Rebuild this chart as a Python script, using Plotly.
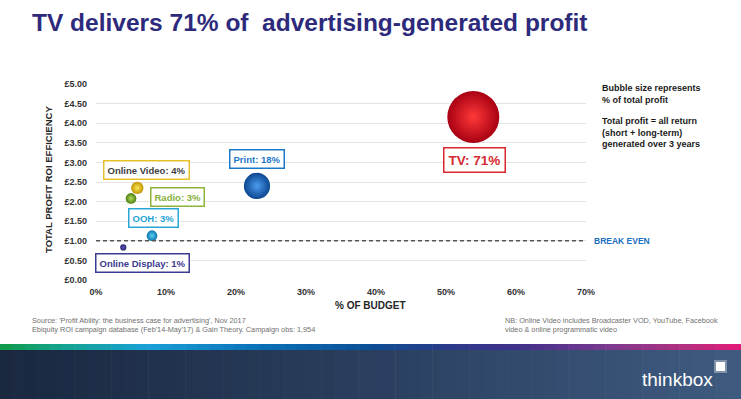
import plotly.graph_objects as go

# ---------------- data ----------------
channels = ["Online Display", "Radio", "Online Video", "OOH", "Print", "TV"]
budget_share = [0.039, 0.050, 0.059, 0.080, 0.230, 0.539]   # % of budget
roi = [0.83, 2.08, 2.35, 1.13, 2.40, 4.16]                  # total profit ROI (GBP)
profit_share = [1, 3, 4, 3, 18, 71]                          # % of total profit (bubble size)
break_even = 1.0
y_ticks = [0, 0.5, 1, 1.5, 2, 2.5, 3, 3.5, 4, 4.5, 5]
y_tick_labels = ["£0.00", "£0.50", "£1.00", "£1.50", "£2.00", "£2.50",
                 "£3.00", "£3.50", "£4.00", "£4.50", "£5.00"]
x_ticks = [0, 0.1, 0.2, 0.3, 0.4, 0.5, 0.6, 0.7]
x_tick_labels = ["0%", "10%", "20%", "30%", "40%", "50%", "60%", "70%"]

# ---------------- styling ----------------
W, H = 741, 399
L, R, T, B = 96, 155, 84, 119
FONT = "Arial, Liberation Sans, sans-serif"

centre_colors = ["#5a5ab8", "#b4dc5a", "#ffe85a", "#5ad0f8", "#4a9cee", "#ff3a3a"]
edge_colors = ["#24246e", "#4a7e12", "#c09400", "#0b76a8", "#0c4690", "#a80012"]
label_text_colors = ["#3c3a8f", "#86b03a", "#404040", "#27a3d6", "#1e78c8", "#d42a30"]
label_border_colors = ["#3c3a8f", "#8db33a", "#e6c12a", "#2aa6d6", "#1e78c8", "#d9262e"]
# label centres in pixels
label_px = [(142, 263), (177, 197), (146, 170), (153, 218), (257, 159), (474, 160)]


def px_x(px):
    return (px - L) / (W - L - R)


def px_y(py):
    return (H - B - py) / (H - T - B)


fig = go.Figure()

sizeref = 2.0 * max(profit_share) / 52.0 ** 2
fig.add_trace(go.Scatter(
    x=budget_share, y=roi, mode="markers",
    marker=dict(
        size=profit_share, sizemode="area", sizeref=sizeref, sizemin=2,
        color=edge_colors,
        gradient=dict(type="radial", color=centre_colors),
        line=dict(width=0),
        opacity=1,
    ),
    hoverinfo="skip", showlegend=False,
))

annotations = []
shapes = []

# bubble labels
for i, ch in enumerate(channels):
    px, py = label_px[i]
    big = ch == "TV"
    annotations.append(dict(
        x=px_x(px), y=px_y(py), xref="paper", yref="paper",
        text=f"<b>{ch}: {profit_share[i]}%</b>", showarrow=False,
        font=dict(family=FONT, size=13.5 if big else 9.5, color=label_text_colors[i]),
        bordercolor=label_border_colors[i], borderwidth=1.5,
        borderpad=4 if big else 3, bgcolor="white",
        xanchor="center", yanchor="middle",
    ))

# break-even line
shapes.append(dict(type="line", xref="paper", yref="y", x0=0, x1=1,
                   y0=break_even, y1=break_even,
                   line=dict(color="#555555", width=1.5, dash="4px,3px")))
annotations.append(dict(x=px_x(592), y=break_even, xref="paper", yref="y",
                        text="<b>BREAK EVEN</b>", showarrow=False,
                        xanchor="left", yanchor="middle",
                        font=dict(family=FONT, size=8.5, color="#1a70c0")))

# title
annotations.append(dict(x=px_x(30), y=px_y(22), xref="paper", yref="paper",
                        text="<b>TV delivers 71% of  advertising-generated profit</b>",
                        showarrow=False, xanchor="left", yanchor="middle",
                        font=dict(family=FONT, size=24.5, color="#2d2a7c")))

# axis titles
annotations.append(dict(x=px_x(370), y=px_y(305), xref="paper", yref="paper",
                        text="<b>% OF BUDGET</b>", showarrow=False,
                        xanchor="center", yanchor="middle",
                        font=dict(family=FONT, size=10, color="#262626")))
annotations.append(dict(x=px_x(48), y=px_y(180), xref="paper", yref="paper",
                        text="<b>TOTAL PROFIT ROI EFFICIENCY</b>", showarrow=False,
                        textangle=-90, xanchor="center", yanchor="middle",
                        font=dict(family=FONT, size=9.5, color="#262626")))

# right-hand notes
annotations.append(dict(x=px_x(600), y=px_y(81), xref="paper", yref="paper",
                        text="<b>Bubble size represents<br>% of total profit</b>",
                        showarrow=False, xanchor="left", yanchor="top", align="left",
                        font=dict(family=FONT, size=9, color="#1a1a1a")))
annotations.append(dict(x=px_x(600), y=px_y(114), xref="paper", yref="paper",
                        text="<b>Total profit = all return<br>(short + long-term)<br>generated over 3 years</b>",
                        showarrow=False, xanchor="left", yanchor="top", align="left",
                        font=dict(family=FONT, size=9, color="#1a1a1a")))

# footnotes
annotations.append(dict(x=px_x(30), y=px_y(314), xref="paper", yref="paper",
                        text="Source: 'Profit Ability: the business case for advertising', Nov 2017<br>"
                             "Ebiquity ROI campaign database (Feb'14-May'17) & Gain Theory. Campaign obs: 1,954",
                        showarrow=False, xanchor="left", yanchor="top", align="left",
                        font=dict(family=FONT, size=7.3, color="#707070")))
annotations.append(dict(x=px_x(503), y=px_y(314), xref="paper", yref="paper",
                        text="NB: Online Video includes Broadcaster VOD, YouTube, Facebook<br>"
                             "video & online programmatic video",
                        showarrow=False, xanchor="left", yanchor="top", align="left",
                        font=dict(family=FONT, size=7.3, color="#707070")))


# colour helpers for bottom band
def hex2rgb(h):
    h = h.lstrip("#")
    return [int(h[i:i + 2], 16) for i in (0, 2, 4)]


def interp(stops, t):
    for (t0, c0), (t1, c1) in zip(stops[:-1], stops[1:]):
        if t0 <= t <= t1:
            f = (t - t0) / (t1 - t0) if t1 > t0 else 0
            a, b = hex2rgb(c0), hex2rgb(c1)
            return "rgb(%d,%d,%d)" % tuple(round(a[k] + (b[k] - a[k]) * f) for k in range(3))
    return stops[-1][1]


stripe_stops = [(0, "#109a48"), (0.08, "#14a48c"), (0.2, "#1aa0d8"), (0.35, "#0a70b8"),
                (0.5, "#0b4f95"), (0.6, "#2a3a88"), (0.7, "#40308a"), (0.82, "#7a3a90"),
                (0.92, "#b0307f"), (1.0, "#e41a7a")]
band_stops = [(0, "#1a2840"), (0.5, "#2a3f5e"), (1.0, "#3e5b80")]
N = 60
for k in range(N):
    x0 = W * k / N
    x1 = W * (k + 1) / N + 0.6
    t = (k + 0.5) / N
    shapes.append(dict(type="rect", xref="paper", yref="paper",
                       x0=px_x(x0), x1=px_x(x1), y0=px_y(350), y1=px_y(344),
                       fillcolor=interp(stripe_stops, t), line=dict(width=0), layer="above"))
    shapes.append(dict(type="rect", xref="paper", yref="paper",
                       x0=px_x(x0), x1=px_x(x1), y0=px_y(399.5), y1=px_y(350),
                       fillcolor=interp(band_stops, t), line=dict(width=0), layer="above"))

# logo
annotations.append(dict(x=px_x(677), y=px_y(379), xref="paper", yref="paper",
                        text="thinkbox", showarrow=False, xanchor="center", yanchor="middle",
                        font=dict(family=FONT, size=19, color="white")))
shapes.append(dict(type="rect", xref="paper", yref="paper",
                   x0=px_x(714), x1=px_x(727), y0=px_y(373), y1=px_y(360),
                   fillcolor="rgba(255,255,255,0.35)", line=dict(width=0), layer="above"))
shapes.append(dict(type="rect", xref="paper", yref="paper",
                   x0=px_x(716), x1=px_x(725), y0=px_y(371), y1=px_y(362),
                   fillcolor="white", line=dict(width=0), layer="above"))

fig.update_layout(
    width=W, height=H,
    margin=dict(l=L, r=R, t=T, b=B, pad=0),
    paper_bgcolor="white", plot_bgcolor="white",
    font=dict(family=FONT),
    xaxis=dict(range=[0, 0.70], tickvals=x_ticks, ticktext=x_tick_labels,
               showgrid=False, zeroline=False, showline=False, ticks="",
               tickfont=dict(family=FONT, size=9, color="#333333", weight="bold"),
               ticklabelstandoff=5, fixedrange=True),
    yaxis=dict(range=[0, 5], tickvals=y_ticks, ticktext=y_tick_labels,
               showgrid=True, gridcolor="#e3e3e3", gridwidth=1,
               zeroline=False, showline=False, ticks="",
               tickfont=dict(family=FONT, size=9, color="#333333", weight="bold"),
               ticklabelstandoff=8, fixedrange=True),
    shapes=shapes, annotations=annotations,
)

fig.write_html("out.html", config={"displayModeBar": False},
               post_script="document.body.style.margin='0px';document.body.style.overflow='hidden';")
